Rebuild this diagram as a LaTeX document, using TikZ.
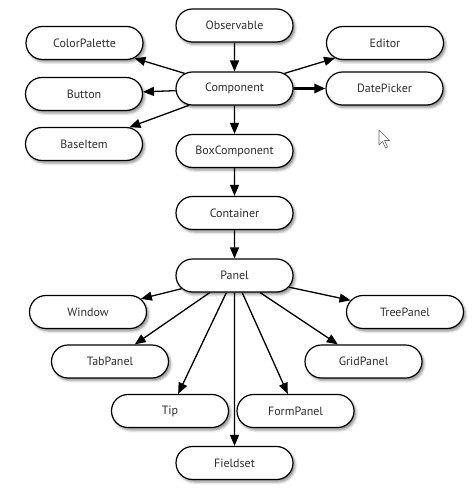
\documentclass[tikz,border=0pt]{standalone}
\usepackage{fontspec}
\setmainfont{PT Sans}
\usetikzlibrary{shapes.misc,arrows.meta,shadows.blur}
\begin{document}
\begin{tikzpicture}[x=1pt,y=-1pt,
  cls/.style={rounded rectangle, draw=black, line width=1.2pt, fill=white,
    minimum width=117pt, minimum height=33pt, inner sep=0pt,
    font=\fontsize{12}{14}\selectfont, text=black!82,
    blur shadow={shadow xshift=2pt, shadow yshift=-2.5pt, shadow blur radius=2.5pt, shadow opacity=45}},
  inh/.style={-{Triangle[length=11pt,width=9pt]}, line width=1.3pt, black},
  thick inh/.style={inh, line width=2.6pt}]
\useasboundingbox (0,0) rectangle (474,492);
\node[cls] (obs)  at (234.5,25.5) {Observable};
\node[cls] (cp)   at (84.5,43)    {ColorPalette};
\node[cls] (ed)   at (385,43)     {Editor};
\node[cls] (comp) at (234.5,88.5) {Component};
\node[cls] (btn)  at (84,94)      {Button};
\node[cls] (dp)   at (384.5,88.5) {DatePicker};
\node[cls] (bi)   at (84,144)     {BaseItem};
\node[cls] (box)  at (234.5,151)  {BoxComponent};
\node[cls] (cont) at (234.5,213)  {Container};
\node[cls] (pan)  at (234.5,275.5){Panel};
\node[cls] (win)  at (88,312)     {Window};
\node[cls] (tree) at (405,312)    {TreePanel};
\node[cls] (tab)  at (110,361.5)  {TabPanel};
\node[cls] (grid) at (363.5,361.5){GridPanel};
\node[cls] (tip)  at (170,411)    {Tip};
\node[cls] (form) at (295.5,411)  {FormPanel};
\node[cls] (fs)   at (234.5,463)  {Fieldset};
\draw[inh] (obs) -- (comp);
\draw[inh] (comp) -- (cp);
\draw[inh] (comp) -- (btn);
\draw[inh] (comp) -- (bi);
\draw[inh] (comp) -- (ed);
\draw[thick inh] (comp) -- (dp);
\draw[inh] (comp) -- (box);
\draw[inh] (box) -- (cont);
\draw[inh] (cont) -- (pan);
\draw[inh] (pan) -- (win);
\draw[inh] (pan) -- (tree);
\draw[inh] (pan) -- (tab);
\draw[inh] (pan) -- (grid);
\draw[inh] (pan) -- (tip);
\draw[inh] (pan) -- (form);
\draw[inh] (pan) -- (fs);
% mouse cursor
\draw[line width=0.6pt, fill=white, draw=black!60, line join=round]
  (379,130) -- (379,145) -- (382.5,141.5) -- (385.5,148) -- (387.5,147) -- (384.5,140.5) -- (389.5,140.5) -- cycle;
\end{tikzpicture}
\end{document}
